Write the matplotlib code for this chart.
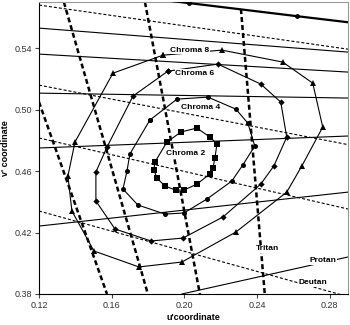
import numpy as np
import matplotlib.pyplot as plt

plt.rcParams['font.family'] = ['Liberation Sans', 'DejaVu Sans']

# Munsell chroma rings (u', v')
chroma2_u = [0.1904, 0.1981, 0.2069, 0.2140, 0.2179, 0.2168, 0.2157, 0.2140,
             0.2069, 0.1997, 0.1953, 0.1893, 0.1849, 0.1832, 0.1838]
chroma2_v = [0.4789, 0.4854, 0.4880, 0.4821, 0.4776, 0.4685, 0.4620, 0.4581,
             0.4515, 0.4476, 0.4476, 0.4502, 0.4554, 0.4607, 0.4659]

chroma4_u = [0.1810, 0.1959, 0.2129, 0.2283, 0.2349, 0.2387, 0.2321, 0.2261,
             0.2124, 0.1997, 0.1893, 0.1744, 0.1662, 0.1684, 0.1700]
chroma4_v = [0.4932, 0.5068, 0.5081, 0.5003, 0.4912, 0.4763, 0.4639, 0.4535,
             0.4418, 0.4327, 0.4320, 0.4379, 0.4483, 0.4600, 0.4711]

chroma6_u = [0.1909, 0.2184, 0.2420, 0.2530, 0.2563, 0.2492, 0.2420, 0.2212,
             0.1992, 0.1816, 0.1618, 0.1513, 0.1513, 0.1574, 0.1717]
chroma6_v = [0.5250, 0.5296, 0.5166, 0.5049, 0.4821, 0.4633, 0.4515, 0.4301,
             0.4164, 0.4145, 0.4223, 0.4405, 0.4594, 0.4756, 0.5088]

chroma8_u = [0.1882, 0.1607, 0.1398, 0.1359, 0.1381, 0.1502, 0.1750, 0.1986,
             0.2283, 0.2563, 0.2646, 0.2761, 0.2706, 0.2541, 0.2206]
chroma8_v = [0.5354, 0.5237, 0.4789, 0.4567, 0.4340, 0.4080, 0.3976, 0.4008,
             0.4203, 0.4463, 0.4633, 0.4886, 0.5172, 0.5309, 0.5387]

# outer ring, only partly inside the plot
outer_u = [0.1700, 0.2025, 0.2618, 0.3000]
outer_v = [0.5738, 0.5693, 0.5608, 0.5554]

# confusion lines: (u1, v1, u2, v2)
protan_lines = [
    (0.12, 0.5530, 0.29, 0.5374),
    (0.12, 0.5361, 0.29, 0.5244),
    (0.12, 0.5107, 0.29, 0.5075),
    (0.12, 0.4750, 0.29, 0.4828),
    (0.12, 0.4242, 0.29, 0.4463),
    (0.1986, 0.38, 0.29, 0.4041),
]
deutan_lines = [
    (0.12, 0.5680, 0.29, 0.5393),
    (0.12, 0.5159, 0.29, 0.4772),
    (0.12, 0.4815, 0.29, 0.4353),
    (0.12, 0.4340, 0.29, 0.3783),
]
tritan_lines = [
    (0.1337, 0.5699, 0.1799, 0.38),
    (0.12, 0.5049, 0.1574, 0.38),
    (0.1783, 0.5699, 0.2085, 0.38),
    (0.2311, 0.5654, 0.2442, 0.38),
]

labels = [
    ("Chroma 8", 0.2030, 0.5387),
    ("Chroma 6", 0.2058, 0.5237),
    ("Chroma 4", 0.2091, 0.5016),
    ("Chroma 2", 0.2008, 0.4717),
    ("Tritan", 0.2459, 0.4093),
    ("Protan", 0.2761, 0.4015),
    ("Deutan", 0.2706, 0.3872),
]

fig = plt.figure(figsize=(3.5, 3.25), dpi=100)
ax = fig.add_axes([39 / 350, 31 / 325, 309 / 350, 292 / 325])

for u1, v1, u2, v2 in protan_lines:
    ax.plot([u1, u2], [v1, v2], color='black', lw=0.8, zorder=2)
for u1, v1, u2, v2 in deutan_lines:
    ax.plot([u1, u2], [v1, v2], color='black', lw=0.8,
            linestyle=(0, (2.7, 1.8)), zorder=2)
for u1, v1, u2, v2 in tritan_lines:
    ax.plot([u1, u2], [v1, v2], color='black', lw=1.8,
            linestyle=(0, (2.0, 1.2)), zorder=2)


def ring(u, v, marker, ms):
    uu = list(u) + [u[0]]
    vv = list(v) + [v[0]]
    ax.plot(uu, vv, color='black', lw=0.8, marker=marker, markersize=ms,
            markerfacecolor='black', markeredgewidth=0, zorder=3)


ring(chroma2_u, chroma2_v, 's', 4.2)
ring(chroma4_u, chroma4_v, 'o', 3.6)
ring(chroma6_u, chroma6_v, 'D', 3.2)
ring(chroma8_u, chroma8_v, '^', 4.6)
ax.plot(outer_u, outer_v, color='black', lw=1.6, marker='o', markersize=3.5,
        markeredgewidth=0, zorder=3)

for txt, x, y in labels:
    ax.text(x, y, txt, ha='center', va='center', fontsize=6, fontweight='bold',
            bbox=dict(facecolor='white', edgecolor='none', pad=0.6), zorder=5)

ax.set_xlim(0.12, 0.29)
ax.set_ylim(0.38, 0.57)
ax.set_xticks([0.12, 0.16, 0.20, 0.24, 0.28])
ax.set_yticks([0.38, 0.42, 0.46, 0.50, 0.54])
ax.xaxis.set_major_formatter(plt.FormatStrFormatter('%.2f'))
ax.yaxis.set_major_formatter(plt.FormatStrFormatter('%.2f'))
ax.tick_params(labelsize=6.5, length=3, width=0.8, pad=2, colors='#444444',
               labelcolor='#333333')
for side in ['top', 'right']:
    ax.spines[side].set_color('0.6')
for side in ['left', 'bottom']:
    ax.spines[side].set_color('black')
ax.set_xlabel("u'coordinate", fontsize=6.5, fontweight='bold', labelpad=2)
ax.set_ylabel("v' coordinate", fontsize=6.5, fontweight='bold', labelpad=3)

fig.savefig('out.png', dpi=100)
